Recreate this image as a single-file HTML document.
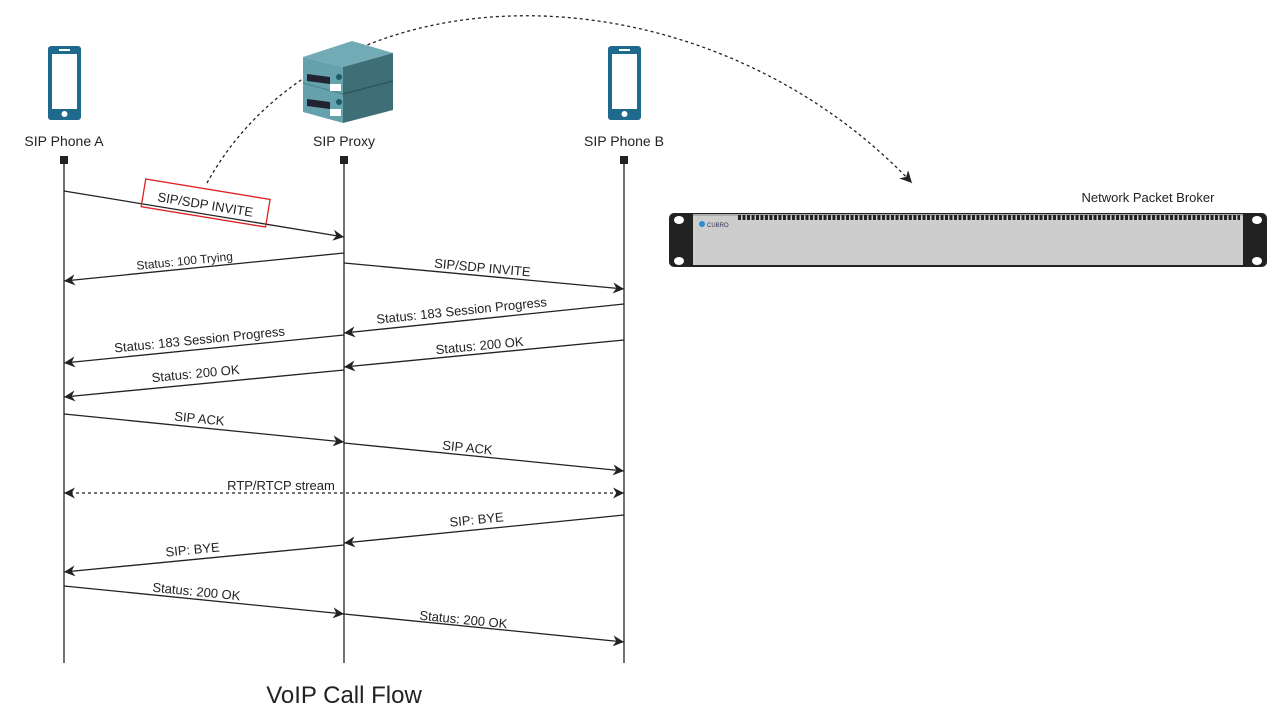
<!DOCTYPE html>
<html><head><meta charset="utf-8"><style>
html,body{margin:0;padding:0;background:#fff;width:1280px;height:720px;overflow:hidden}
text{font-family:"Liberation Sans",sans-serif;fill:#222}
</style></head><body>
<svg width="1280" height="720" viewBox="0 0 1280 720" xmlns="http://www.w3.org/2000/svg">
<defs>
<marker id="ah" viewBox="0 0 10 10" refX="10" refY="5" markerWidth="11" markerHeight="11" markerUnits="userSpaceOnUse" orient="auto-start-reverse"><path d="M0,0 L10,5 L0,10 L3,5 z" fill="#222"/></marker>
<marker id="ah2" viewBox="0 0 10 10" refX="10" refY="5" markerWidth="12" markerHeight="12" markerUnits="userSpaceOnUse" orient="auto"><path d="M0,0 L10,5 L0,10 L3,5 z" fill="#222"/></marker>
</defs>
<path d="M207,183 C330,-40 700,-40 912,183" fill="none" stroke="#222" stroke-width="1.3" stroke-dasharray="3,3" marker-end="url(#ah2)"/>
<g>
<rect x="48" y="46" width="33" height="74" rx="3" fill="#1d6a8c"/>
<rect x="52" y="54" width="25" height="55" fill="#fff"/>
<rect x="59" y="49" width="11" height="2" fill="#fff"/>
<circle cx="64.5" cy="114" r="3" fill="#fff"/>
</g>
<g>
<rect x="608" y="46" width="33" height="74" rx="3" fill="#1d6a8c"/>
<rect x="612" y="54" width="25" height="55" fill="#fff"/>
<rect x="619" y="49" width="11" height="2" fill="#fff"/>
<circle cx="624.5" cy="114" r="3" fill="#fff"/>
</g>
<g>
<polygon points="303,57 352,41 393,53 343,67" fill="#72aab5"/>
<polygon points="303,57 343,67 343,123 303,112" fill="#65a2ae"/>
<polygon points="343,67 393,53 393,110 343,123" fill="#3f6f76"/>
<line x1="303" y1="83" x2="343" y2="94" stroke="#4d8891" stroke-width="1.2"/>
<line x1="343" y1="94" x2="393" y2="81" stroke="#2d5358" stroke-width="1.2"/>
<polygon points="307,74 330,77 330,84 307,81" fill="#223"/>
<polygon points="307,99 330,102 330,109 307,106" fill="#223"/>
<circle cx="339" cy="77" r="3" fill="#1b5c5f"/>
<circle cx="339" cy="102" r="3" fill="#1b5c5f"/>
<rect x="330" y="84" width="11" height="7" fill="#fff"/>
<rect x="330" y="109" width="11" height="7" fill="#fff"/>
</g>
<text x="64" y="146" font-size="14" text-anchor="middle">SIP Phone A</text>
<text x="344" y="146" font-size="14" text-anchor="middle">SIP Proxy</text>
<text x="624" y="146" font-size="14" text-anchor="middle">SIP Phone B</text>
<g stroke="#222" stroke-width="1.3">
<line x1="64" y1="160" x2="64" y2="663"/>
<line x1="344" y1="160" x2="344" y2="663"/>
<line x1="624" y1="160" x2="624" y2="663"/>
</g>
<rect x="60" y="156" width="8" height="8" fill="#222"/>
<rect x="340" y="156" width="8" height="8" fill="#222"/>
<rect x="620" y="156" width="8" height="8" fill="#222"/>
<g stroke="#222" stroke-width="1.3" fill="none" marker-end="url(#ah)">
<line x1="64" y1="191" x2="344" y2="237"/>
<line x1="344" y1="253" x2="64" y2="281"/>
<line x1="344" y1="263" x2="624" y2="289"/>
<line x1="624" y1="304" x2="344" y2="333"/>
<line x1="344" y1="335" x2="64" y2="363"/>
<line x1="624" y1="340" x2="344" y2="367"/>
<line x1="344" y1="370" x2="64" y2="397"/>
<line x1="64" y1="414" x2="344" y2="442"/>
<line x1="344" y1="443" x2="624" y2="471"/>
<line x1="624" y1="515" x2="344" y2="543"/>
<line x1="344" y1="545" x2="64" y2="572"/>
<line x1="64" y1="586" x2="344" y2="614"/>
<line x1="344" y1="614" x2="624" y2="642"/>
<line x1="64" y1="493" x2="624" y2="493" stroke-dasharray="3,3" marker-start="url(#ah)"/>
</g>
<g font-size="13">
<g transform="translate(205,207) rotate(9.3)">
<rect x="-63" y="-18" width="126" height="28" fill="none" stroke="#d22" stroke-width="1.3"/>
<text x="0" y="2" text-anchor="middle">SIP/SDP INVITE</text></g>
<text transform="translate(185,265) rotate(-5.7)" text-anchor="middle" font-size="12">Status: 100 Trying</text>
<text transform="translate(482,272) rotate(5.3)" text-anchor="middle">SIP/SDP INVITE</text>
<text transform="translate(462,315) rotate(-5.9)" text-anchor="middle">Status: 183 Session Progress</text>
<text transform="translate(200,344) rotate(-5.7)" text-anchor="middle">Status: 183 Session Progress</text>
<text transform="translate(480,350) rotate(-5.5)" text-anchor="middle">Status: 200 OK</text>
<text transform="translate(196,378) rotate(-5.5)" text-anchor="middle">Status: 200 OK</text>
<text transform="translate(199,423) rotate(5.7)" text-anchor="middle">SIP ACK</text>
<text transform="translate(467,452) rotate(5.7)" text-anchor="middle">SIP ACK</text>
<text x="281" y="490" text-anchor="middle">RTP/RTCP stream</text>
<text transform="translate(477,524) rotate(-5.7)" text-anchor="middle">SIP: BYE</text>
<text transform="translate(193,554) rotate(-5.5)" text-anchor="middle">SIP: BYE</text>
<text transform="translate(196,596) rotate(5.7)" text-anchor="middle">Status: 200 OK</text>
<text transform="translate(463,624) rotate(5.7)" text-anchor="middle">Status: 200 OK</text>
</g>
<text x="1148" y="202" font-size="13" text-anchor="middle">Network Packet Broker</text>
<rect x="669" y="213" width="598" height="54" rx="5" fill="#222"/>
<rect x="693" y="214" width="550" height="51" fill="#cdcdcd"/>
<rect x="693" y="214" width="550" height="2" fill="#aaa"/>
<line x1="738" y1="217.5" x2="1240" y2="217.5" stroke="#222" stroke-width="5" stroke-dasharray="3,1.5"/>
<ellipse cx="679" cy="220" rx="5" ry="4" fill="#fff"/>
<ellipse cx="679" cy="261" rx="5" ry="4" fill="#fff"/>
<ellipse cx="1257" cy="220" rx="5" ry="4" fill="#fff"/>
<ellipse cx="1257" cy="261" rx="5" ry="4" fill="#fff"/>
<circle cx="702" cy="224" r="3" fill="#2a8fd0"/>
<text x="707" y="227" font-size="6" style="fill:#335">CUBRO</text>
<text x="344" y="703" font-size="24" text-anchor="middle">VoIP Call Flow</text>
</svg>
</body></html>
